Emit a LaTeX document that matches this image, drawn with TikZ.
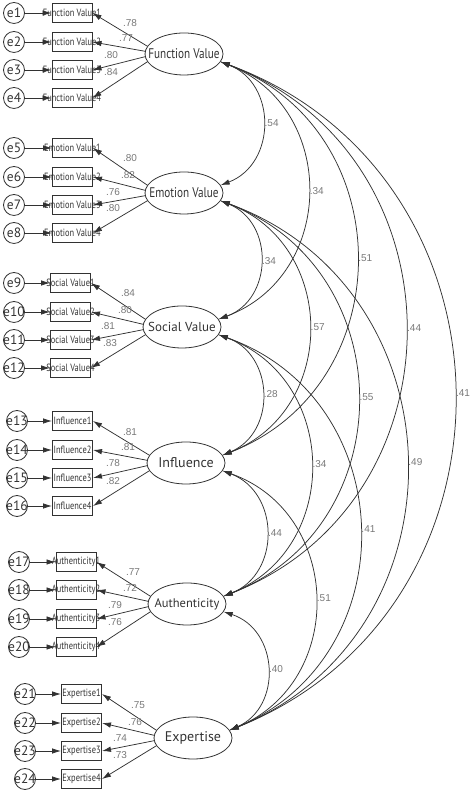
\documentclass[tikz,border=0pt]{standalone}
\usepackage{fontspec}
\setmainfont{PT Sans}
\newfontfamily\condfont[FakeStretch=0.8]{PT Sans}
\newfontfamily\numfont{Liberation Sans}
\usetikzlibrary{shapes.geometric,arrows.meta}
\definecolor{linecol}{RGB}{50,50,50}
\definecolor{numcol}{RGB}{120,120,120}
\tikzset{
  latent/.style={ellipse, draw=linecol, line width=0.8pt, text=black!80,
    minimum width=78pt, minimum height=42pt, inner xsep=-20pt, inner ysep=-4pt,
    font=\fontsize{14}{16}\selectfont},
  obs/.style={rectangle, draw=linecol, line width=1pt, text=black!80,
    minimum width=40pt, minimum height=19pt, inner xsep=-12pt, inner ysep=0pt,
    font=\condfont\fontsize{10.5}{12}\selectfont},
  err/.style={circle, draw=linecol, line width=0.8pt, text=black!80,
    minimum size=21pt, inner sep=-6pt, font=\fontsize{13.5}{15}\selectfont},
  load/.style={draw=linecol, line width=0.75pt, -{Latex[length=9pt,width=5.5pt]}},
  cov/.style={draw=linecol, line width=0.75pt,
    {Latex[length=9pt,width=5.5pt]}-{Latex[length=9pt,width=5.5pt]}},
  num/.style={text=numcol, font=\numfont\fontsize{10}{12}\selectfont, inner sep=1pt}
}

\begin{document}
\begin{tikzpicture}[x=1pt, y=1pt]
\useasboundingbox (0,0) rectangle (474,792);
%% --- latent variables ---
\node[latent, font=\condfont\fontsize{14}{16}\selectfont] (FV) at (184,738) {Function Value};
\node[latent, font=\condfont\fontsize{14}{16}\selectfont] (EV) at (184,599) {Emotion Value};
\node[latent, font=\fontsize{13}{15}\selectfont] (SV) at (182,465) {Social Value};
\node[latent] (Inf) at (186,329) {Influence};
\node[latent, font=\fontsize{12.5}{15}\selectfont] (Auth) at (187,188) {Authenticity};
\node[latent] (Exp) at (193,54) {Expertise};
%% --- Function Value ---
\foreach \k/\e/\y/\a/\lx/\ly/\v in {1/1/779/168/130/769/.78, 2/2/750/176/126/754/.77,
    3/3/722/184/111/737/.80, 4/4/694/192/111/720/.84} {
  \node[obs] (fv\k) at (72,\y) {Function Value\k};
  \node[err] (e\e) at (14,\y) {e\e};
  \draw[load] (e\e) -- (fv\k);
  \draw[load] (FV.\a) -- (fv\k.east);
  \node[num] (l\e) at (\lx,\ly) {\v};
}
%% --- Emotion Value ---
\foreach \k/\e/\y/\a/\lx/\ly/\v in {1/5/644/168/130/634/.80, 2/6/615/176/128/617/.82,
    3/7/587/184/113/600/.76, 4/8/559/192/113/584/.80} {
  \node[obs] (ev\k) at (72.5,\y) {Emotion Value\k};
  \node[err] (e\e) at (14,\y) {e\e};
  \draw[load] (e\e) -- (ev\k);
  \draw[load] (EV.\a) -- (ev\k.east);
  \node[num] (l\e) at (\lx,\ly) {\v};
}
%% --- Social Value ---
\foreach \k/\e/\y/\a/\lx/\ly/\v in {1/9/509/168/128/499/.84, 2/10/480/176/125/482/.80,
    3/11/452/184/108/466/.81, 4/12/424/192/110/449/.83} {
  \node[obs] (sv\k) at (70.5,\y) {Social Value\k};
  \node[err] (e\e) at (14,\y) {e\e};
  \draw[load] (e\e) -- (sv\k);
  \draw[load] (SV.\a) -- (sv\k.east);
  \node[num] (l\e) at (\lx,\ly) {\v};
}
%% --- Influence ---
\foreach \k/\e/\y/\a/\lx/\ly/\v in {1/13/371/168/130/360/.81, 2/14/342/176/128/345/.81,
    3/15/314/184/113/329/.78, 4/16/286/192/113/311/.82} {
  \node[obs] (in\k) at (72.5,\y) {Influence\k};
  \node[err] (e\e) at (17,\y) {e\e};
  \draw[load] (e\e) -- (in\k);
  \draw[load] (Inf.\a) -- (in\k.east);
  \node[num] (l\e) at (\lx,\ly) {\v};
}
%% --- Authenticity ---
\foreach \k/\e/\y/\a/\lx/\ly/\v in {1/17/230/168/133/220/.77, 2/18/202/176/130/204/.72,
    3/19/173/184/115/187/.79, 4/20/145/192/115/170/.76} {
  \node[obs] (au\k) at (76,\y) {Authenticity\k};
  \node[err] (e\e) at (19,\y) {e\e};
  \draw[load] (e\e) -- (au\k);
  \draw[load] (Auth.\a) -- (au\k.east);
  \node[num] (l\e) at (\lx,\ly) {\v};
}
%% --- Expertise ---
\foreach \k/\e/\y/\a/\lx/\ly/\v in {1/21/98/168/138/87/.75, 2/22/69/176/135/70/.76,
    3/23/41/184/120/54/.74, 4/24/13/192/120/37/.73} {
  \node[obs] (ex\k) at (81.5,\y) {Expertise\k};
  \node[err] (e\e) at (25,\y) {e\e};
  \draw[load] (e\e) -- (ex\k);
  \draw[load] (Exp.\a) -- (ex\k.east);
  \node[num] (l\e) at (\lx,\ly) {\v};
}
%% --- correlations ---
\foreach \p/\q/\v in {FV/EV/.54, FV/SV/.34, FV/Inf/.51, FV/Auth/.44, FV/Exp/.41,
    EV/SV/.34, EV/Inf/.57, EV/Auth/.55, EV/Exp/.49,
    SV/Inf/.28, SV/Auth/.34, SV/Exp/.41,
    Inf/Auth/.44, Inf/Exp/.51, Auth/Exp/.40} {
  \draw[cov] (\p.-12) to[bend left=69, looseness=1.25]
    node[num, midway, right=0.5pt] {\v} (\q.12);
}
\end{tikzpicture}
\end{document}
